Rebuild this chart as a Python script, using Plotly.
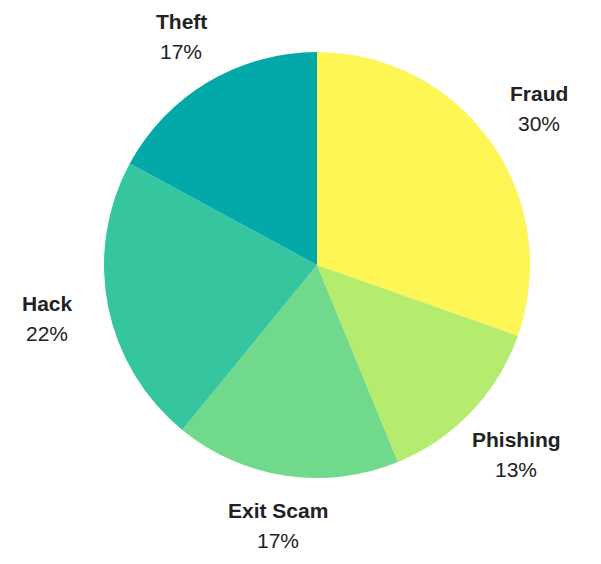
import math
import plotly.graph_objects as go

# Anteile der Kategorien (im Uhrzeigersinn ab 12 Uhr)
categories = ["Fraud", "Phishing", "Exit Scam", "Hack", "Theft"]
shares = [30.4, 13.4, 17.1, 22.0, 17.1]
slice_colors = ["#FEF654", "#B5EC6E", "#70D98B", "#35C69F", "#02A9A8"]
# Abstand der Beschriftung vom Mittelpunkt (Vielfaches des Radius)
label_dist = [1.275, 1.29, 1.235, 1.29, 1.247]

W, H = 601, 564
pie_dom_x = [0.1597, 0.8686]
pie_dom_y = [0.1667, 0.922]

fig = go.Figure()
fig.add_trace(go.Pie(
    labels=categories,
    values=shares,
    sort=False,
    direction="clockwise",
    rotation=0,
    marker=dict(colors=slice_colors, line=dict(width=0)),
    textinfo="none",
    domain=dict(x=pie_dom_x, y=pie_dom_y),
    hoverinfo="label+percent",
))

# Beschriftungen ausserhalb, entlang der Mittelwinkel der Segmente
cx = (pie_dom_x[0] + pie_dom_x[1]) / 2
cy = (pie_dom_y[0] + pie_dom_y[1]) / 2
radius_px = (pie_dom_x[1] - pie_dom_x[0]) * W / 2
total = sum(shares)
start = 0.0
font = dict(family="Liberation Sans, Arial, sans-serif", size=21, color="#222222")
for name, val, dist in zip(categories, shares, label_dist):
    mid = (start + val / 2) / total * 2 * math.pi
    start += val
    ax = cx + radius_px * dist * math.sin(mid) / W
    ay = cy + radius_px * dist * math.cos(mid) / H
    pct = round(val / total * 100)
    common = dict(x=ax, y=ay, xref="paper", yref="paper", showarrow=False,
                  xanchor="center", yanchor="middle", font=font)
    fig.add_annotation(text=f"<b>{name}</b>", yshift=15, **common)
    fig.add_annotation(text=f"{pct}%", yshift=-15, **common)

fig.update_layout(
    width=W, height=H,
    showlegend=False,
    margin=dict(l=0, r=0, t=0, b=0),
    paper_bgcolor="white", plot_bgcolor="white",
)

fig.write_html("out.html")
